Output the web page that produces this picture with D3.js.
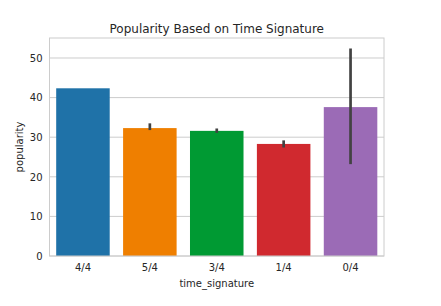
<!DOCTYPE html>
<html>
<head>
<meta charset="utf-8">
<script src="https://cdn.jsdelivr.net/npm/d3@7"></script>
<style>
  body { margin: 0; background: #fff; }
  text { font-family: "DejaVu Sans", sans-serif; fill: #262626; }
</style>
</head>
<body>
<svg width="441" height="306"></svg>
<script>
// data
var signatures = ["4/4", "5/4", "3/4", "1/4", "0/4"];
var popularity = [42.35, 32.3, 31.6, 28.3, 37.6];
var ciLow = [42.33, 31.8, 31.1, 27.4, 23.2];
var ciHigh = [42.37, 33.5, 32.2, 29.2, 52.4];
var yTicks = [0, 10, 20, 30, 40, 50];
var colors = ["#1f72a8", "#ef7f00", "#009a33", "#d0292f", "#9b6bb6"];

var svg = d3.select("svg");
var m = {left: 49.5, right: 384, top: 38, bottom: 256};

var x = d3.scaleBand().domain(signatures).range([m.left, m.right])
  .paddingInner(0.2).paddingOuter(0.1);
var y = d3.scaleLinear().domain([0, 55.05]).range([m.bottom, m.top]);

// grid lines
svg.append("g").selectAll("line").data(yTicks).enter().append("line")
  .attr("x1", m.left).attr("x2", m.right)
  .attr("y1", function(d){ return y(d); }).attr("y2", function(d){ return y(d); })
  .attr("stroke", "#cccccc").attr("stroke-width", 1);

// bars
var rows = signatures.map(function(s, i){
  return {k: s, v: popularity[i], lo: ciLow[i], hi: ciHigh[i], c: colors[i]};
});
svg.append("g").selectAll("rect").data(rows).enter().append("rect")
  .attr("x", function(d){ return x(d.k); })
  .attr("width", x.bandwidth())
  .attr("y", function(d){ return y(d.v); })
  .attr("height", function(d){ return y(0) - y(d.v); })
  .attr("fill", function(d){ return d.c; });

// error bars (skip the ones too short to see)
svg.append("g").selectAll("line").data(rows.filter(function(d){ return d.hi - d.lo > 0.1; }))
  .enter().append("line")
  .attr("x1", function(d){ return x(d.k) + x.bandwidth() / 2; })
  .attr("x2", function(d){ return x(d.k) + x.bandwidth() / 2; })
  .attr("y1", function(d){ return y(d.lo); })
  .attr("y2", function(d){ return y(d.hi); })
  .attr("stroke", "#424242").attr("stroke-width", 2.7);

// frame
svg.append("rect")
  .attr("x", m.left).attr("y", m.top)
  .attr("width", m.right - m.left).attr("height", m.bottom - m.top)
  .attr("fill", "none").attr("stroke", "#cccccc").attr("stroke-width", 1);

// axes (ticks hidden, labels only)
var yAxis = svg.append("g").attr("transform", "translate(" + m.left + ",0)")
  .call(d3.axisLeft(y).tickValues(yTicks).tickSize(0).tickPadding(7));
var xAxis = svg.append("g").attr("transform", "translate(0," + m.bottom + ")")
  .call(d3.axisBottom(x).tickSize(0).tickPadding(8));
[yAxis, xAxis].forEach(function(a){
  a.select(".domain").remove();
  a.selectAll("text").attr("font-size", 10).attr("font-family", "DejaVu Sans").style("fill", "#262626");
});

// labels
svg.append("text").attr("x", (m.left + m.right) / 2).attr("y", 33)
  .attr("text-anchor", "middle").attr("font-size", 12)
  .text("Popularity Based on Time Signature");
svg.append("text").attr("x", (m.left + m.right) / 2).attr("y", 287)
  .attr("text-anchor", "middle").attr("font-size", 10)
  .text("time_signature");
svg.append("text").attr("transform", "translate(23," + ((m.top + m.bottom) / 2) + ") rotate(-90)")
  .attr("text-anchor", "middle").attr("font-size", 10)
  .text("popularity");
</script>
</body>
</html>
